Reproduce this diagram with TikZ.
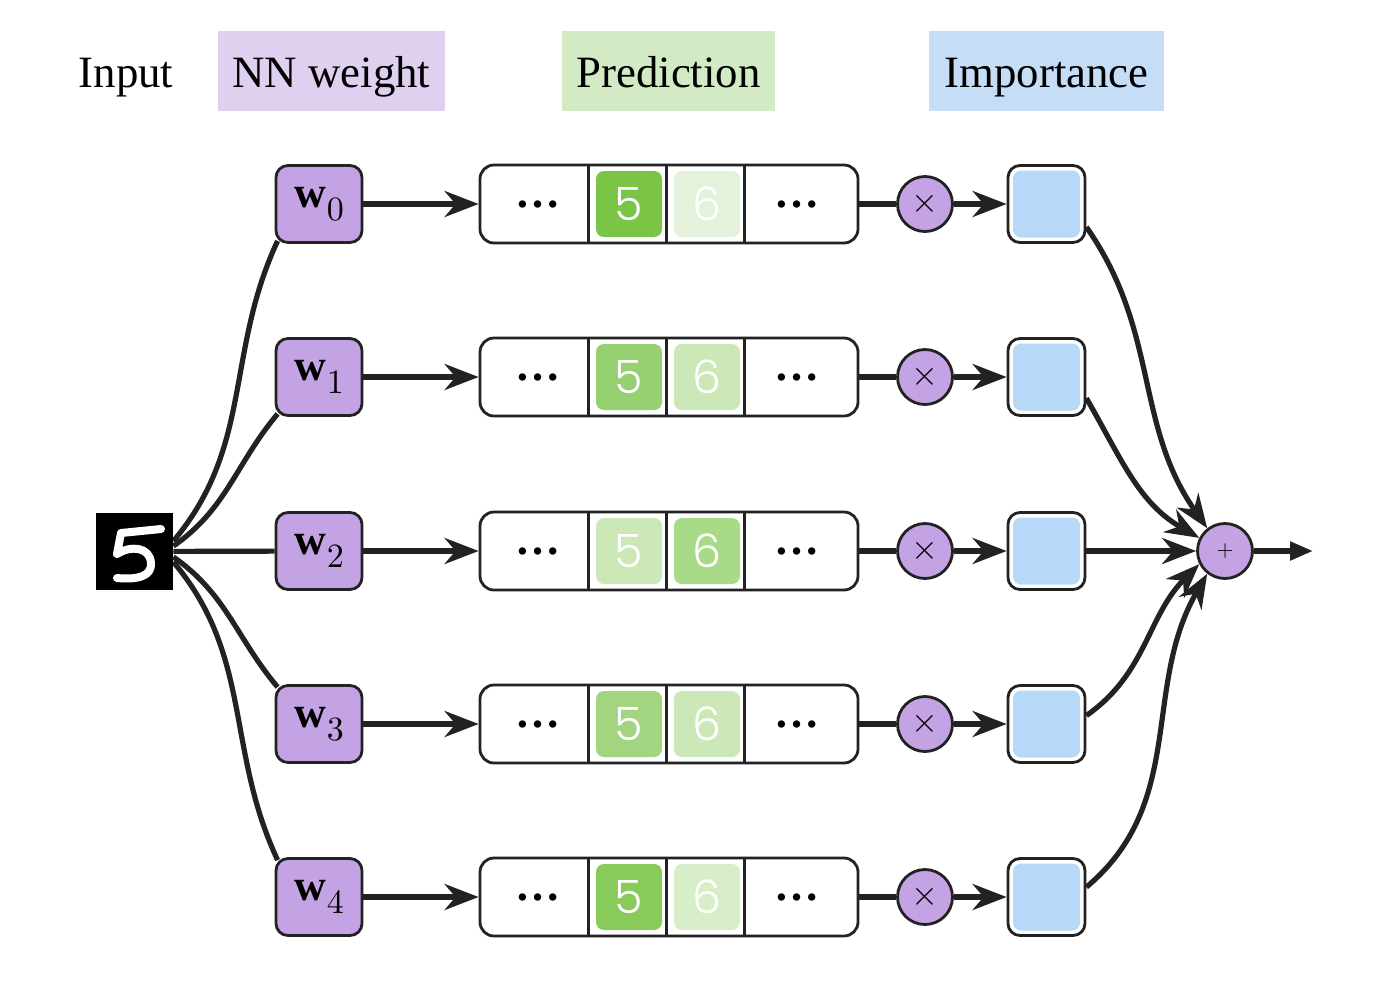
\documentclass[tikz,border=0pt]{standalone}
\usepackage{fontspec}
\setmainfont{Liberation Serif}
\newfontfamily\numfont{Poppins Light}
\newfontfamily\lmfont{lmroman10-regular.otf}
\usetikzlibrary{arrows.meta,calc}
\pgfdeclarelayer{background}
\pgfsetlayers{background,main}
\definecolor{ink}{HTML}{222222}
\definecolor{wfill}{HTML}{C3A3E3}
\definecolor{hpurple}{HTML}{DFD0F0}
\definecolor{hgreen}{HTML}{D2EBC5}
\definecolor{hblue}{HTML}{C5DDF6}
\definecolor{impblue}{HTML}{B6D9F7}
\newcommand{\wsub}[1]{{\fontsize{22}{24}\selectfont\bfseries w}\kern0.5pt\raisebox{-6.5pt}{\lmfont\fontsize{17}{18}\selectfont #1}}
\begin{document}
\begin{tikzpicture}[x=0.5pt,y=-0.5pt,
  wbox/.style={draw=ink,line width=1.4pt,fill=wfill,rounded corners=6pt,minimum width=43pt,minimum height=38.5pt,inner sep=0pt},
  predbar/.style={draw=ink,line width=1.4pt,fill=white,rounded corners=7pt,minimum width=189pt,minimum height=39pt,inner sep=0pt},
  cellbox/.style={rounded corners=4pt,minimum size=33pt,inner sep=0pt,text=white,font=\numfont\fontsize{23}{26}\selectfont},
  dotlabel/.style={inner sep=0pt,font=\bfseries\fontsize{22.5}{24}\selectfont},
  opnode/.style={circle,draw=ink,line width=1.4pt,fill=wfill,minimum size=27.5pt,inner sep=0pt},
  impbox/.style={draw=ink,line width=1.4pt,fill=white,rounded corners=6pt,minimum size=38.5pt,inner sep=0pt},
  impin/.style={fill=impblue,rounded corners=4pt,minimum size=33.5pt,inner sep=0pt},
  hdr/.style={minimum height=40pt,inner sep=0pt,text height=20pt,text depth=4pt,font=\fontsize{22.4}{26}\selectfont},
  conn/.style={draw=ink,line width=2.6pt},
  arr/.style={conn,-{Stealth[length=17pt,width=13pt,inset=5.5pt]}},
  outarr/.style={conn,-{Triangle[length=11.5pt,width=9pt]}},
]
\useasboundingbox (0,0) rectangle (1380,986);

% headers
\node[hdr] (hin) at (126,71) {Input};
\node[hdr,fill=hpurple,minimum width=113.5pt] (hnn) at (331.5,71) {NN weight};
\node[hdr,fill=hgreen,minimum width=106.5pt] (hpred) at (668.5,71) {Prediction};
\node[hdr,fill=hblue,minimum width=117.5pt] (himp) at (1046.5,71) {Importance};

% input image
\node[fill=black,minimum size=38.5pt,inner sep=0pt] (in) at (134.5,551.5) {};
\draw[white,line width=4pt,line cap=round,line join=round]
  (161,529) -- (121,533) -- (117,554)
  .. controls (131,545) and (150,547) .. (151,563)
  .. controls (152,576) and (138,580) .. (117,578);

% rows
\foreach \i/\y/\cf/\cs in {0/204/7AC546/E4F2DB,1/377/96D070/CBE8B6,2/551/CBE8B6/A9DA88,3/724/A3D580/CBE8B6,4/897/88CB5A/D8EEC8}{
  \definecolor{cfive}{HTML}{\cf}
  \definecolor{csix}{HTML}{\cs}
  \node[wbox] (w\i) at (319,\y) {\wsub{\i}};
  \node[predbar] (p\i) at (669,\y) {};
  \draw[ink,line width=1.4pt] ($(p\i.north west)+(110,0)$) -- ($(p\i.south west)+(110,0)$);
  \draw[ink,line width=1.4pt] ($(p\i.north west)+(188,0)$) -- ($(p\i.south west)+(188,0)$);
  \draw[ink,line width=1.4pt] ($(p\i.north west)+(266,0)$) -- ($(p\i.south west)+(266,0)$);
  \node[dotlabel] (dl\i) at (538,\y) {…};
  \node[dotlabel] (dr\i) at (797,\y) {…};
  \node[cellbox,fill=cfive] (f\i) at (629,\y) {5};
  \node[cellbox,fill=csix] (s\i) at (707,\y) {6};
  \node[opnode] (t\i) at (925,\y) {\fontsize{17}{18}\selectfont$\times$};
  \node[impbox] (m\i) at (1046.5,\y) {};
  \node[impin] (mi\i) at (m\i) {};
  \draw[arr] (w\i) -- (p\i);
  \draw[conn] (p\i) -- (t\i);
  \draw[arr] (t\i) -- (m\i);
}

\node[opnode] (sum) at (1225,551) {\fontsize{11}{12}\selectfont$+$};
\coordinate (outend) at (1313,551);
\draw[outarr] (sum) -- (outend);

\begin{pgfonlayer}{background}
  \draw[conn] (in.15) to[out=50,in=-115] ($(w0.south west)+(1.5pt,1.5pt)$);
  \draw[conn] (in.8) to[out=35,in=-130] ($(w1.south west)+(1.5pt,1.5pt)$);
  \draw[conn] (in) -- (w2);
  \draw[conn] (in.-8) to[out=-35,in=130] ($(w3.north west)+(1.5pt,-1.5pt)$);
  \draw[conn] (in.-15) to[out=-50,in=115] ($(w4.north west)+(1.5pt,-1.5pt)$);
\end{pgfonlayer}

\draw[arr] (m0.-30) to[out=-55,in=125] (sum.128);
\draw[arr] (m1.-28) to[out=-60,in=150] (sum.153);
\draw[arr] (m2) -- (sum);
\draw[arr] (m3.12) to[out=35,in=-135] (sum.207);
\draw[arr] (m4.14) to[out=40,in=-120] (sum.232);
\end{tikzpicture}
\end{document}
